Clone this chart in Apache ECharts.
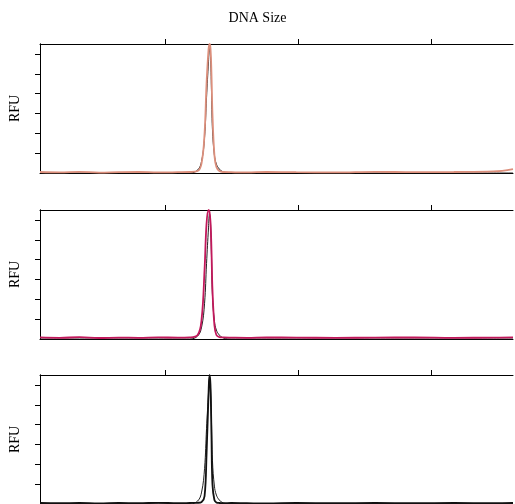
<!DOCTYPE html>
<html><head><meta charset="utf-8">
<script src="https://cdn.jsdelivr.net/npm/echarts@6/dist/echarts.min.js"></script>
<style>html,body{margin:0;padding:0;background:#fff}#c{width:515px;height:504px}</style>
</head><body><div id="c"></div>
<script>
var sizeX = [0, 20, 40, 60, 80, 100, 120, 140, 152, 160, 164, 167, 169, 171, 172, 173, 174, 175, 177, 179, 182, 186, 194, 210, 230, 260, 300, 340, 380, 420, 460, 480];
var topTicks = [127, 262, 397];
var leftTicks = [1, 2, 3, 4, 5, 6];
var colors = ['#dc8f7c', '#c2185b', '#111111'];
var peakVals = [
  [0.05, 0.03, 0.06, 0.02, 0.04, 0.05, 0.03, 0.04, 0.05, 0.1, 0.5, 2.0, 4.5, 6.2, 6.5, 6.3, 5.0, 3.0, 0.9, 0.3, 0.1, 0.05, 0.04, 0.03, 0.05, 0.04, 0.03, 0.06, 0.04, 0.05, 0.08, 0.2],
  [0.08, 0.06, 0.09, 0.05, 0.07, 0.06, 0.08, 0.07, 0.08, 0.2, 1.0, 3.5, 5.8, 6.5, 6.4, 5.9, 4.5, 2.5, 0.7, 0.2, 0.1, 0.08, 0.07, 0.06, 0.08, 0.07, 0.06, 0.07, 0.08, 0.06, 0.07, 0.08],
  [0.05, 0.04, 0.05, 0.03, 0.05, 0.04, 0.06, 0.04, 0.05, 0.06, 0.1, 0.4, 2.5, 5.5, 6.5, 6.0, 3.5, 1.0, 0.2, 0.08, 0.05, 0.04, 0.05, 0.04, 0.03, 0.05, 0.04, 0.05, 0.04, 0.05, 0.04, 0.05]
];
var baseVals = [0, 0, 0, 0, 0, 0, 0, 0, 0, 0.15, 0.6, 1.8, 3.8, 5.6, 6.3, 5.9, 4.2, 2.2, 0.9, 0.45, 0.2, 0.05, 0, 0, 0, 0, 0, 0, 0, 0, 0, 0];
var tops = [44, 210, 375];

var font = 'Liberation Serif';
var grids = [], xAxes = [], yAxes = [], series = [];
for (var i = 0; i < 3; i++) {
  grids.push({left: 33, right: 2, top: tops[i], height: 129});
  xAxes.push({type: 'value', gridIndex: i, min: 0, max: 480, position: 'top',
    axisLine: {onZero: false, lineStyle: {color: '#000'}},
    axisTick: {show: true, inside: false, length: 5, customValues: topTicks, lineStyle: {color: '#000'}},
    axisLabel: {show: false}, splitLine: {show: false}});
  xAxes.push({type: 'value', gridIndex: i, min: 0, max: 480, position: 'bottom',
    axisLine: {onZero: false, lineStyle: {color: '#000'}}, axisTick: {show: false},
    axisLabel: {show: false}, splitLine: {show: false}});
  yAxes.push({type: 'value', gridIndex: i, min: 0, max: 6.5, interval: 1,
    name: 'RFU', nameLocation: 'middle', nameGap: 18, nameRotate: 90,
    nameTextStyle: {fontFamily: font, fontSize: 14, color: '#000'},
    axisLine: {show: true, lineStyle: {color: '#000'}},
    axisTick: {show: true, length: 5, customValues: leftTicks, lineStyle: {color: '#000'}},
    axisLabel: {show: false}, splitLine: {show: false}});
  yAxes.push({type: 'value', gridIndex: i, min: 0, max: 6.5, position: 'right',
    axisLine: {show: true, lineStyle: {color: '#000'}}, axisTick: {show: false},
    axisLabel: {show: false}, splitLine: {show: false}});
  series.push({type: 'line', xAxisIndex: 2 * i + 1, yAxisIndex: 2 * i, smooth: 0.4, symbol: 'none',
    lineStyle: {color: '#222', width: 1},
    data: sizeX.map(function (x, k) { return [x, baseVals[k]]; })});
  series.push({type: 'line', xAxisIndex: 2 * i + 1, yAxisIndex: 2 * i, smooth: 0.4, symbol: 'none',
    lineStyle: {color: colors[i], width: 1.8},
    data: sizeX.map(function (x, k) { return [x, peakVals[i][k]]; })});
}

var chart = echarts.init(document.getElementById('c'));
chart.setOption({
  animation: false,
  title: {text: 'DNA Size', left: 'center', top: 6,
    textStyle: {fontFamily: font, fontSize: 14, fontWeight: 'normal', color: '#000'}},
  grid: grids, xAxis: xAxes, yAxis: yAxes, series: series
});
</script></body></html>
